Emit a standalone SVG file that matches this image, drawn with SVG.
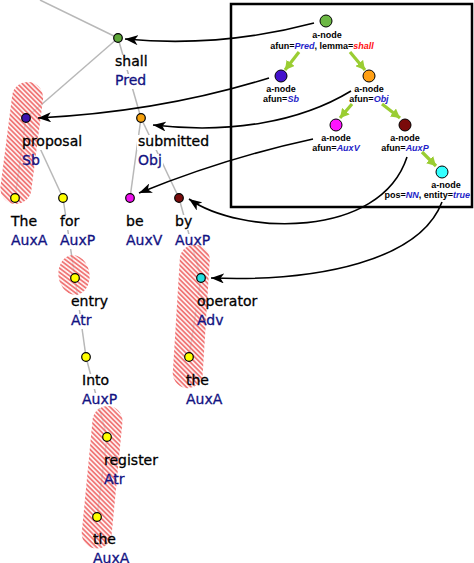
<svg xmlns="http://www.w3.org/2000/svg" width="474" height="563" viewBox="0 0 474 563">
<style>
.edge{stroke:#b8b8b8;stroke-width:1.5;fill:none}
.bg{fill:#fff}
.hatch{fill:url(#hatch)}
.tn{stroke:#000;stroke-width:1.2}
.bn{stroke:#000;stroke-width:1}
.w{font-family:"DejaVu Sans",sans-serif;font-size:14px;fill:#000;stroke:#000;stroke-width:0.3}
.f{font-family:"DejaVu Sans",sans-serif;font-size:14px;fill:#121282;stroke:#121282;stroke-width:0.3}
.bl{font-family:"Liberation Sans",Arial,sans-serif;font-size:9px;font-weight:bold;fill:#000;text-anchor:middle}
.v{fill:#1f1fc8;font-style:italic}
.r{fill:#ff1010;font-style:italic}
.arr{stroke:#000;stroke-width:1.6;fill:none;marker-end:url(#ah)}
.garr{stroke:#9acd32;stroke-width:3.2;fill:none;marker-end:url(#gh)}
</style>
<defs>
<pattern id="hatch" patternUnits="userSpaceOnUse" width="3.4" height="3.4" patternTransform="rotate(-45)">
<rect width="3.4" height="3.4" fill="#fde4e4" fill-opacity="0.6"/>
<rect width="1.7" height="3.4" fill="#ee5a5a" fill-opacity="0.8"/>
</pattern>
<marker id="ah" markerUnits="userSpaceOnUse" markerWidth="14" markerHeight="10" refX="13" refY="5" orient="auto">
<path d="M0,0 L13,5 L0,10 L3.5,5 z" fill="#000"/>
</marker>
<marker id="gh" markerUnits="userSpaceOnUse" markerWidth="10" markerHeight="10" refX="9" refY="5" orient="auto">
<path d="M0,0 L9,5 L0,10 z" fill="#9acd32"/>
</marker>
</defs>

<g id="tree-edges">
<line class="edge" x1="40" y1="0" x2="118" y2="38"/>
<line class="edge" x1="118" y1="38" x2="26" y2="118"/>
<line class="edge" x1="118" y1="38" x2="141" y2="118"/>
<line class="edge" x1="26" y1="118" x2="15" y2="198"/>
<line class="edge" x1="26" y1="118" x2="63" y2="198"/>
<line class="edge" x1="141" y1="118" x2="130" y2="198"/>
<line class="edge" x1="141" y1="118" x2="179" y2="198"/>
<line class="edge" x1="63" y1="198" x2="75" y2="278"/>
<line class="edge" x1="75" y1="278" x2="86" y2="357"/>
<line class="edge" x1="86" y1="357" x2="107" y2="437"/>
<line class="edge" x1="107" y1="437" x2="97" y2="517"/>
<line class="edge" x1="179" y1="198" x2="201" y2="278"/>
<line class="edge" x1="201" y1="278" x2="189" y2="357"/>
</g>

<g id="label-backgrounds">
<rect class="bg" x="114" y="55" width="35" height="15"/>
<rect class="bg" x="114" y="74" width="34" height="15"/>
<rect class="bg" x="21" y="135" width="63" height="15"/>
<rect class="bg" x="21" y="154" width="20" height="15"/>
<rect class="bg" x="137" y="135" width="73" height="15"/>
<rect class="bg" x="137" y="154" width="26" height="15"/>
<rect class="bg" x="10" y="215" width="28" height="15"/>
<rect class="bg" x="10" y="234" width="38" height="15"/>
<rect class="bg" x="59" y="215" width="21" height="15"/>
<rect class="bg" x="59" y="234" width="37" height="15"/>
<rect class="bg" x="125" y="215" width="20" height="15"/>
<rect class="bg" x="125" y="234" width="38" height="15"/>
<rect class="bg" x="174" y="215" width="19" height="15"/>
<rect class="bg" x="174" y="234" width="37" height="15"/>
<rect class="bg" x="70" y="295" width="39" height="15"/>
<rect class="bg" x="70" y="314" width="23" height="15"/>
<rect class="bg" x="196" y="295" width="62" height="15"/>
<rect class="bg" x="196" y="314" width="29" height="15"/>
<rect class="bg" x="81" y="374" width="29" height="15"/>
<rect class="bg" x="81" y="393" width="37" height="15"/>
<rect class="bg" x="185" y="374" width="25" height="15"/>
<rect class="bg" x="185" y="393" width="38" height="15"/>
<rect class="bg" x="103" y="454" width="56" height="15"/>
<rect class="bg" x="103" y="473" width="23" height="15"/>
<rect class="bg" x="92" y="533" width="25" height="15"/>
<rect class="bg" x="92" y="552" width="38" height="11"/>
</g>

<g id="groupings">
<path class="hatch" d="M12.2,95.3 A15.5,15.5 0 0 1 43.0,99.6 L31.3,190.6 A15.5,15.5 0 0 1 0.5,186.4 Z"/>
<ellipse class="hatch" cx="74" cy="275" rx="15.5" ry="20" transform="rotate(-8 74 275)"/>
<path class="hatch" d="M179.9,257.4 A15,15 0 0 1 209.6,261.9 L202.6,375.4 A15,15 0 0 1 172.9,370.9 Z"/>
<path class="hatch" d="M92.7,418.6 A15,15 0 0 1 122.5,421.3 L111.5,536.0 A15,15 0 0 1 81.7,533.3 Z"/>
</g>

<g id="tree-nodes">
<g id="n-shall"><circle class="tn" cx="118" cy="38" r="4.3" fill="#5fa83a"/><text class="w" x="115" y="66">shall</text><text class="f" x="115" y="85">Pred</text></g>
<g id="n-proposal"><circle class="tn" cx="26" cy="118" r="4.3" fill="#3d12b0"/><text class="w" x="22" y="146">proposal</text><text class="f" x="22" y="165">Sb</text></g>
<g id="n-submitted"><circle class="tn" cx="141" cy="118" r="4.3" fill="#f5a00c"/><text class="w" x="138" y="146">submitted</text><text class="f" x="138" y="165">Obj</text></g>
<g id="n-the1"><circle class="tn" cx="15" cy="198" r="4.3" fill="#ffff00"/><text class="w" x="11" y="226">The</text><text class="f" x="11" y="245">AuxA</text></g>
<g id="n-for"><circle class="tn" cx="63" cy="198" r="4.3" fill="#ffff00"/><text class="w" x="60" y="226">for</text><text class="f" x="60" y="245">AuxP</text></g>
<g id="n-be"><circle class="tn" cx="130" cy="198" r="4.3" fill="#ee11ee"/><text class="w" x="126" y="226">be</text><text class="f" x="126" y="245">AuxV</text></g>
<g id="n-by"><circle class="tn" cx="179" cy="198" r="4.3" fill="#7a0c0c"/><text class="w" x="175" y="226">by</text><text class="f" x="175" y="245">AuxP</text></g>
<g id="n-entry"><circle class="tn" cx="75" cy="278" r="4.3" fill="#ffff00"/><text class="w" x="71" y="306">entry</text><text class="f" x="71" y="325">Atr</text></g>
<g id="n-operator"><circle class="tn" cx="201" cy="278" r="4.3" fill="#22e0e0"/><text class="w" x="197" y="306">operator</text><text class="f" x="197" y="325">Adv</text></g>
<g id="n-into"><circle class="tn" cx="86" cy="357" r="4.3" fill="#ffff00"/><text class="w" x="82" y="385">Into</text><text class="f" x="82" y="404">AuxP</text></g>
<g id="n-the2"><circle class="tn" cx="189" cy="357" r="4.3" fill="#ffff00"/><text class="w" x="186" y="385">the</text><text class="f" x="186" y="404">AuxA</text></g>
<g id="n-register"><circle class="tn" cx="107" cy="437" r="4.3" fill="#ffff00"/><text class="w" x="104" y="465">register</text><text class="f" x="104" y="484">Atr</text></g>
<g id="n-the3"><circle class="tn" cx="97" cy="517" r="4.3" fill="#ffff00"/><text class="w" x="93" y="544">the</text><text class="f" x="93" y="563">AuxA</text></g>
</g>

<g id="query-box">
<rect x="231" y="4" width="241" height="203" fill="#fff" stroke="#000" stroke-width="2.5"/>
</g>

<g id="query-edges">
<line class="garr" x1="299" y1="52" x2="285" y2="70"/>
<line class="garr" x1="350" y1="52" x2="365" y2="70"/>
<line class="garr" x1="352" y1="104" x2="340" y2="118"/>
<line class="garr" x1="382" y1="104" x2="400" y2="118"/>
<line class="garr" x1="422" y1="152" x2="436" y2="166"/>
</g>

<g id="query-nodes">
<g id="q-pred"><circle class="bn" cx="326" cy="21" r="6" fill="#6cb844"/><text class="bl" x="327" y="38">a-node</text><text class="bl" x="322" y="49">afun=<tspan class="v">Pred</tspan>, lemma=<tspan class="r">shall</tspan></text></g>
<g id="q-sb"><circle class="bn" cx="281" cy="76" r="6" fill="#4412cc"/><text class="bl" x="281" y="92">a-node</text><text class="bl" x="281" y="102">afun=<tspan class="v">Sb</tspan></text></g>
<g id="q-obj"><circle class="bn" cx="369" cy="76" r="6" fill="#ff9f14"/><text class="bl" x="369" y="92">a-node</text><text class="bl" x="369" y="102">afun=<tspan class="v">Obj</tspan></text></g>
<g id="q-auxv"><circle class="bn" cx="336" cy="125" r="6" fill="#ff14ff"/><text class="bl" x="336" y="141">a-node</text><text class="bl" x="336" y="151">afun=<tspan class="v">AuxV</tspan></text></g>
<g id="q-auxp"><circle class="bn" cx="405" cy="125" r="6" fill="#7a0a0a"/><text class="bl" x="405" y="141">a-node</text><text class="bl" x="405" y="151">afun=<tspan class="v">AuxP</tspan></text></g>
<g id="q-nn"><circle class="bn" cx="442" cy="172" r="6" fill="#33ffff"/><text class="bl" x="446" y="188">a-node</text><text class="bl" x="470" y="198" style="text-anchor:end">pos=<tspan class="v">NN</tspan>, entity=<tspan class="v">true</tspan></text></g>
</g>

<g id="connectors">
<path class="arr" d="M314,23 Q220,48 125,39"/>
<path class="arr" d="M269,78 Q160,112 38,118"/>
<path class="arr" d="M351,91 C300,122 230,134 153,125"/>
<path class="arr" d="M313,139 Q225,158 139,193"/>
<path class="arr" d="M407,157 C380,240 240,235 189,199"/>
<path class="arr" d="M442,202 C420,260 320,282 211,278"/>
</g>
</svg>
